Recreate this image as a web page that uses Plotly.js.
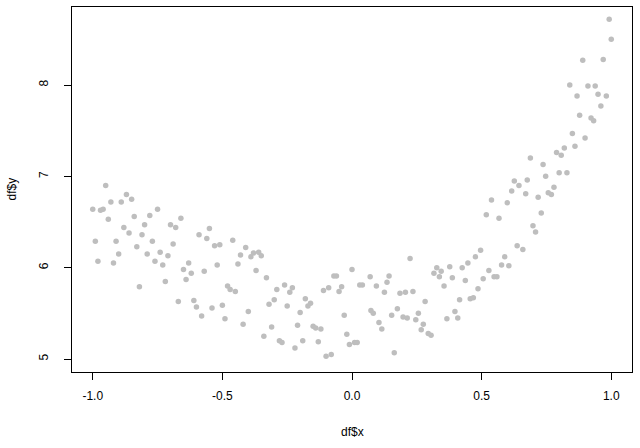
<!DOCTYPE html>
<html>
<head>
<meta charset="utf-8">
<script src="https://cdn.plot.ly/plotly-3.0.1.min.js"></script>
<style>html,body{margin:0;padding:0;background:#fff;}#chart{width:640px;height:448px;}</style>
</head>
<body>
<div id="chart"></div>
<script>
var xValues = [-1.00,-0.99,-0.98,-0.97,-0.96,-0.95,-0.94,-0.93,-0.92,-0.91,-0.90,-0.89,-0.88,-0.87,-0.86,-0.85,-0.84,-0.83,-0.82,-0.81,
-0.80,-0.79,-0.78,-0.77,-0.76,-0.75,-0.74,-0.73,-0.72,-0.71,-0.70,-0.69,-0.68,-0.67,-0.66,-0.65,-0.64,-0.63,-0.62,-0.61,
-0.60,-0.59,-0.58,-0.57,-0.56,-0.55,-0.54,-0.53,-0.52,-0.51,-0.50,-0.49,-0.48,-0.47,-0.46,-0.45,-0.44,-0.43,-0.42,-0.41,
-0.40,-0.39,-0.38,-0.37,-0.36,-0.35,-0.34,-0.33,-0.32,-0.31,-0.30,-0.29,-0.28,-0.27,-0.26,-0.25,-0.24,-0.23,-0.22,-0.21,
-0.20,-0.19,-0.18,-0.17,-0.16,-0.15,-0.14,-0.13,-0.12,-0.11,-0.10,-0.09,-0.08,-0.07,-0.06,-0.05,-0.04,-0.03,-0.02,-0.01,
0.00,0.01,0.02,0.03,0.04,0.07,0.073,0.082,0.094,0.104,0.115,0.125,0.135,0.143,0.153,0.163,0.175,0.185,0.197,0.206,
0.213,0.224,0.235,0.246,0.256,0.267,0.275,0.282,0.294,0.305,0.316,0.327,0.337,0.344,0.355,0.366,0.377,0.387,0.397,0.408,
0.415,0.425,0.437,0.447,0.456,0.468,0.476,0.486,0.496,0.506,0.518,0.528,0.538,0.548,0.559,0.567,0.577,0.589,0.599,0.605,
0.616,0.626,0.637,0.644,0.659,0.670,0.676,0.688,0.698,0.708,0.718,0.730,0.737,0.747,0.757,0.769,0.779,0.789,0.799,0.807,
0.819,0.829,0.840,0.850,0.860,0.868,0.878,0.890,0.899,0.910,0.922,0.932,0.938,0.949,0.960,0.969,0.981,0.992,1.00];

var yValues = [6.64,6.29,6.07,6.63,6.64,6.90,6.53,6.72,6.05,6.29,6.15,6.72,6.44,6.80,6.38,6.75,6.56,6.23,5.79,6.36,
6.47,6.15,6.57,6.29,6.07,6.64,6.17,6.03,5.85,6.13,6.47,6.26,6.44,5.63,6.54,5.98,5.87,6.05,5.94,5.64,
5.57,6.36,5.47,5.96,6.32,6.43,5.56,6.24,6.03,6.25,5.59,5.44,5.80,5.76,6.30,5.74,6.04,6.14,5.38,6.22,
5.52,6.12,6.16,5.97,6.17,6.13,5.25,5.89,5.60,5.35,5.65,5.76,5.20,5.18,5.81,5.58,5.73,5.78,5.12,5.37,
5.51,5.20,5.66,5.58,5.61,5.36,5.34,5.19,5.33,5.75,5.03,5.78,5.05,5.91,5.91,5.74,5.79,5.48,5.27,5.16,
5.98,5.18,5.18,5.81,5.81,5.90,5.53,5.50,5.80,5.40,5.33,5.73,5.84,5.91,5.48,5.07,5.55,5.72,5.46,5.73,
5.45,6.10,5.74,5.43,5.50,5.32,5.38,5.63,5.28,5.26,5.94,6.00,5.90,5.96,5.80,5.44,6.01,5.89,5.52,5.45,
5.65,6.00,5.86,6.05,5.66,5.67,6.12,5.77,6.19,5.88,6.58,5.97,6.74,5.90,5.90,6.54,6.03,6.12,6.71,6.02,
6.84,6.95,6.24,6.90,6.20,6.81,6.96,7.20,6.46,6.39,6.77,6.60,7.13,7.00,6.82,6.80,6.88,7.26,7.04,7.23,
7.31,7.04,8.00,7.47,7.33,7.88,7.67,8.27,7.42,7.99,7.64,7.61,7.99,7.90,7.77,8.28,7.88,8.72,8.50];

var xTickVals = [-1, -0.5, 0, 0.5, 1];
var xTickText = ["-1.0", "-0.5", "0.0", "0.5", "1.0"];
var yTickVals = [5, 6, 7, 8];
var yTickText = ["5", "6", "7", "8"];
var xLabel = "df$x";
var yLabel = "df$y";

var font = {family: "Liberation Sans, Arial, sans-serif", size: 12, color: "#000"};

var trace = {
  x: xValues, y: yValues, type: "scatter", mode: "markers",
  marker: {color: "#BEBEBE", size: 5.5, line: {width: 0}},
  hoverinfo: "x+y"
};

var layout = {
  width: 640, height: 448,
  margin: {l: 72, r: 8, t: 7, b: 76, pad: 0},
  paper_bgcolor: "#fff", plot_bgcolor: "#fff",
  showlegend: false,
  font: font,
  xaxis: {
    range: [-1.08, 1.08], tickvals: xTickVals, ticktext: xTickText,
    ticks: "outside", ticklen: 7, tickwidth: 1, tickcolor: "#000",
    showline: true, mirror: true, linecolor: "#000", linewidth: 1,
    showgrid: false, zeroline: false, tickfont: font, ticklabelstandoff: 6
  },
  yaxis: {
    range: [4.858, 8.854], tickvals: yTickVals, ticktext: yTickText,
    ticks: "outside", ticklen: 7, tickwidth: 1, tickcolor: "#000",
    showline: true, mirror: true, linecolor: "#000", linewidth: 1,
    showgrid: false, zeroline: false, tickfont: font, tickangle: -90, ticklabelstandoff: 11
  },
  annotations: [
    {text: xLabel, xref: "paper", yref: "paper", x: 0.5, y: 0, xanchor: "center", yanchor: "middle",
     yshift: -60, showarrow: false, font: font},
    {text: yLabel, xref: "paper", yref: "paper", x: 0, y: 0.5, xanchor: "center", yanchor: "middle",
     xshift: -61, textangle: -90, showarrow: false, font: font}
  ]
};

Plotly.newPlot("chart", [trace], layout, {displayModeBar: false, staticPlot: true});
</script>
</body>
</html>
